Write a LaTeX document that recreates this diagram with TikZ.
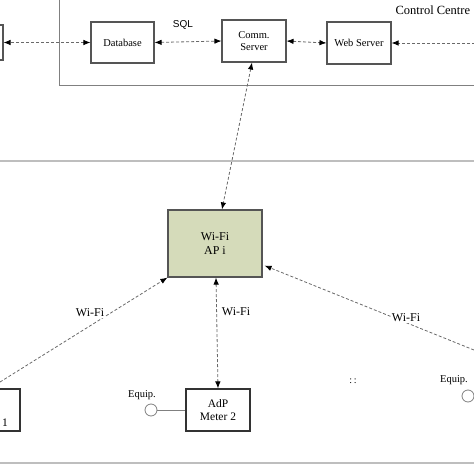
\documentclass[tikz,border=0pt]{standalone}
\usepackage{fontspec}
\setmainfont{Liberation Serif}
\newfontfamily\sqlfont{Liberation Sans}
\usetikzlibrary{arrows.meta,calc}
\definecolor{apfill}{RGB}{213,219,186}
\definecolor{boxline}{RGB}{85,85,85}
\definecolor{sepline}{RGB}{190,190,190}
\definecolor{dashcol}{RGB}{105,105,105}
\tikzset{
  unitbox/.style={draw=boxline,line width=1.1pt,fill=white,inner sep=0pt,align=center,font=\fontsize{10.5}{12}\selectfont},
  apbox/.style={draw=boxline,line width=1.2pt,fill=apfill,inner sep=0pt,align=center,minimum width=94pt,minimum height=67pt,font=\fontsize{12}{14}\selectfont},
  meterbox/.style={draw=black!80,line width=1.2pt,fill=white,inner sep=0pt,align=center,minimum width=64pt,minimum height=42pt,font=\fontsize{11.5}{13.5}\selectfont},
  link/.style={draw=dashcol,line width=0.8pt,dash pattern=on 3pt off 2pt,{Latex[length=7pt,width=5.5pt,black]}-{Latex[length=7pt,width=5.5pt,black]}},
  linkin/.style={draw=dashcol,line width=0.8pt,dash pattern=on 3pt off 2pt,-{Latex[length=7pt,width=5.5pt,black]}},
  wifilabel/.style={fill=white,inner sep=1pt,font=\fontsize{12}{14}\selectfont},
  equiplabel/.style={inner sep=0pt,font=\fontsize{10.5}{12}\selectfont},
  equipdot/.style={circle,draw=gray,line width=0.8pt,fill=white,minimum size=12pt,inner sep=0pt},
  sep/.style={draw=sepline,line width=1.5pt}
}
\begin{document}
\begin{tikzpicture}[x=1pt,y=-1pt]
\useasboundingbox (0,0) rectangle (474,474);
\clip (0,0) rectangle (474,474);
% Control centre frame
\draw[draw=gray,line width=1pt] (59,-5) rectangle (480,85);
\node[font=\fontsize{12.5}{14}\selectfont,anchor=west] (cctitle) at (392,10) {Control Centre};
% separators
\draw[sep] (-5,161) -- (480,161);
\draw[sep] (-5,463) -- (480,463);
% control centre boxes
\node[unitbox,minimum width=64pt,minimum height=35pt] (lefttop) at (-29,42.5) {};
\node[unitbox,minimum width=63pt,minimum height=41pt] (db) at (122.5,42.5) {Database};
\node[unitbox,minimum width=64pt,minimum height=42pt] (comm) at (254,41) {Comm.\\Server};
\node[unitbox,minimum width=64pt,minimum height=42pt] (web) at (359,43) {Web Server};
\node[font=\sqlfont\fontsize{10}{12}\selectfont] (sql) at (183,25) {SQL};
\coordinate (webext) at (480,43);
% AP and meters
\node[apbox] (ap) at (215,243.5) {Wi-Fi\\AP i};
\node[meterbox] (m2) at (218,410) {AdP\\Meter 2};
\node[meterbox] (m1) at (-12,410) {};
\node[font=\fontsize{11.5}{13.5}\selectfont,inner sep=0pt] (m1t) at (5,423) {1};
\node[equipdot] (e2) at (151,410) {};
\node[equiplabel] (e2l) at (142,395) {Equip.};
\node[equipdot] (e3) at (468,396) {};
\node[equiplabel] (e3l) at (454,380) {Equip.};
\node[font=\fontsize{10}{12}\selectfont] (dots) at (353,381) {:\,:};
\coordinate (blend) at (0,382);
\coordinate (brend) at (474,350);
% links
\draw[link] (db.west) -- (lefttop.east);
\draw[link] (db.east) -- (comm.west);
\draw[link] (comm.east) -- (web.west);
\draw[linkin] (webext) -- (web.east);
\draw[link] ($(comm.south)+(-2,0)$) -- ($(ap.north)+(7,0)$);
\draw[link] ($(ap.south)+(1,0)$) -- (m2.north);
\draw[linkin] (blend) -- (ap.south west);
\draw[linkin] (brend) -- ($(ap.south east)+(2,-12)$);
\draw[draw=gray,line width=0.8pt] (e2.east) -- (m2.west);
% labels
\node[wifilabel] (w1) at (90,313) {Wi-Fi};
\node[wifilabel,fill=none] (w2) at (236,312) {Wi-Fi};
\node[wifilabel] (w3) at (406,318) {Wi-Fi};
\end{tikzpicture}
\end{document}
